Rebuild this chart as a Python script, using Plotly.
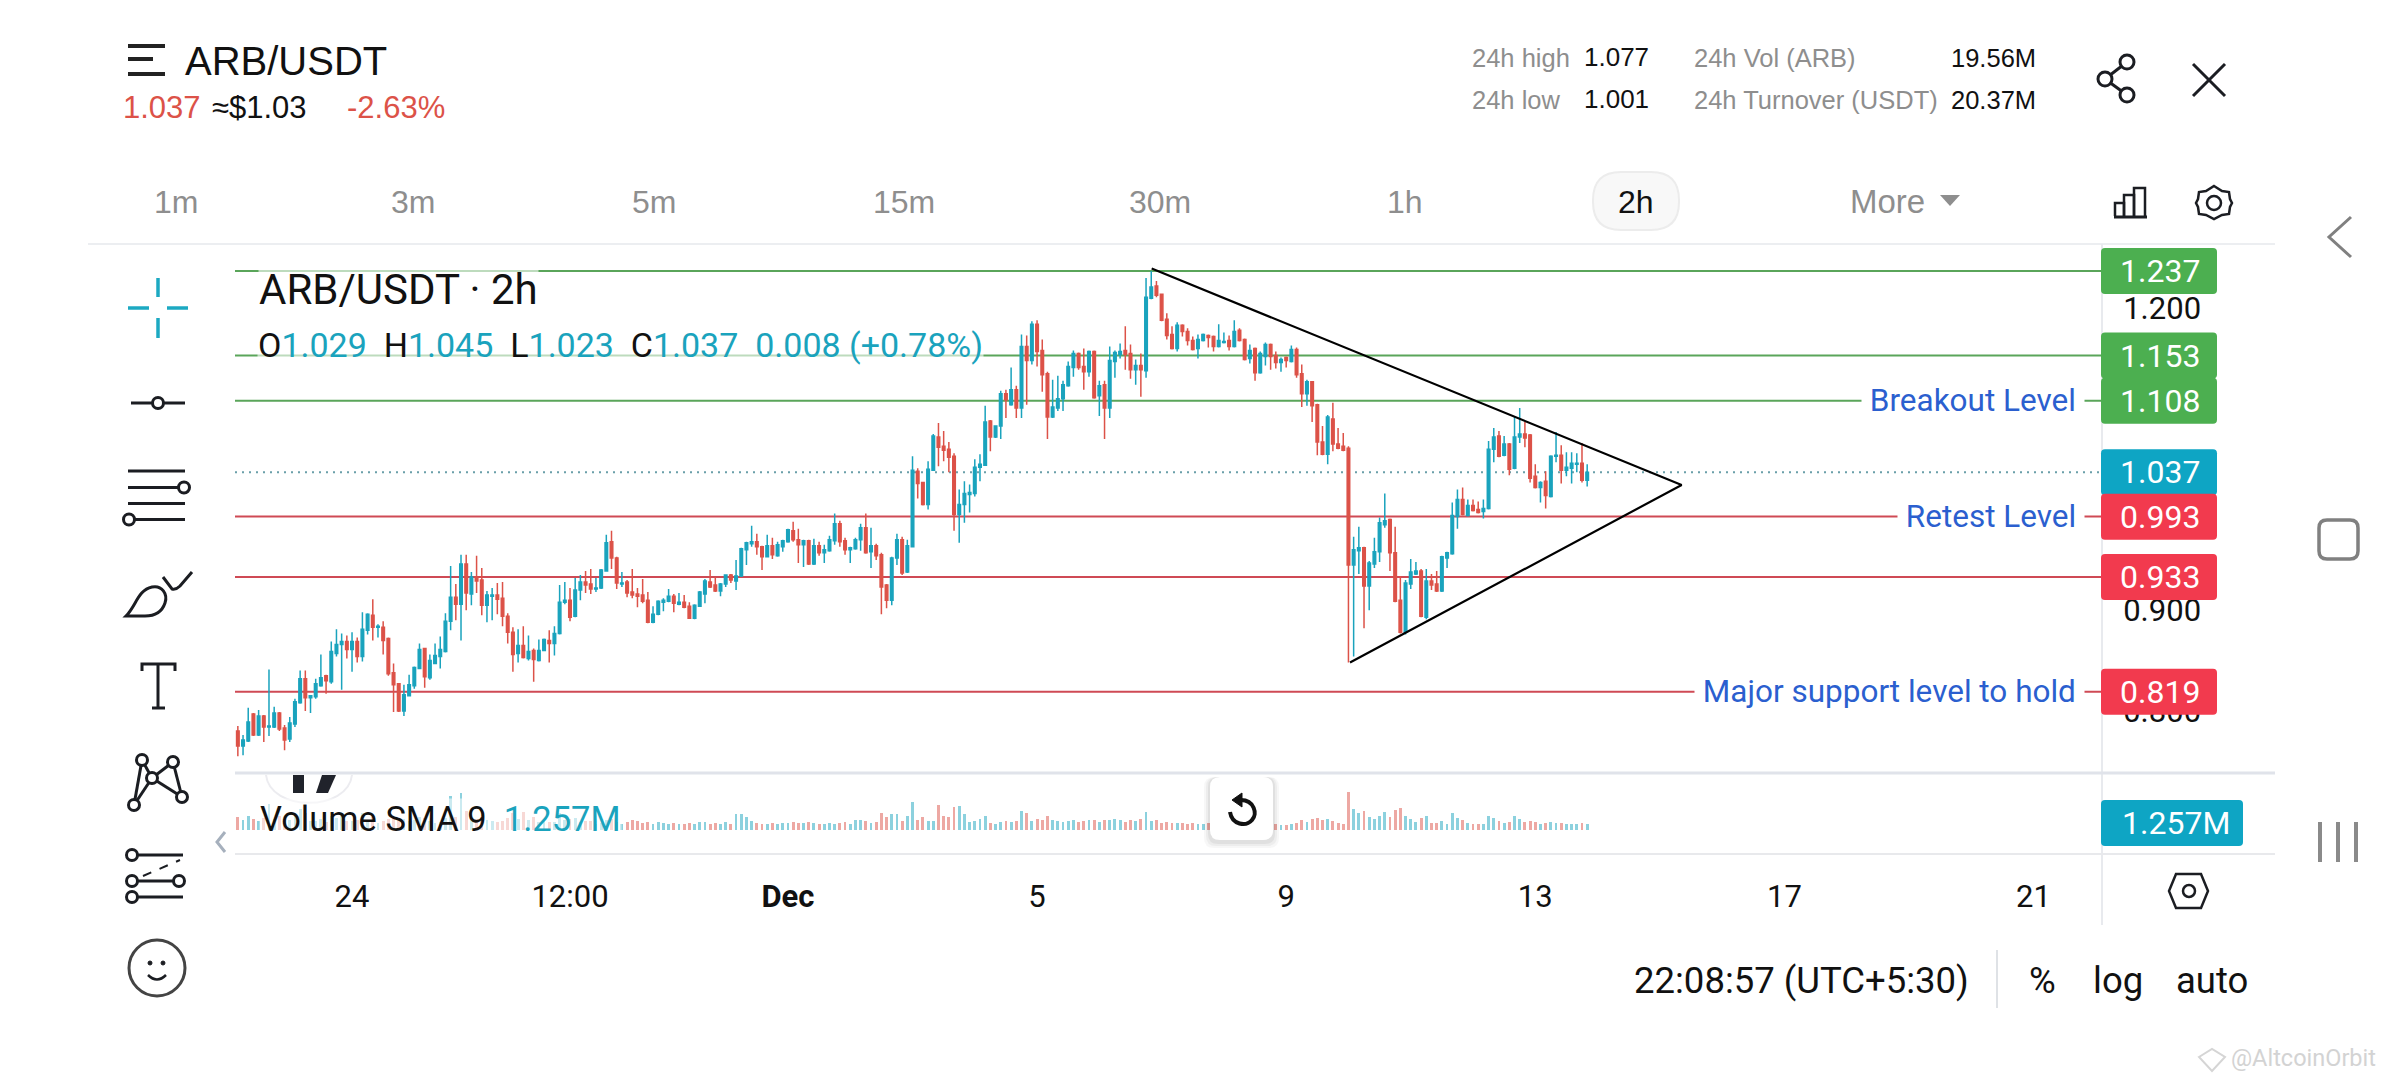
import pandas as pd
import plotly.graph_objects as go

# 2h candles, first bar Nov 22 04:00
times = pd.date_range("2023-11-22 04:00", periods=261, freq="2h")

opens = [
    .780, .765, .770, .797, .776, .795, .784, .784, .798, .783,
    .772, .787, .808, .832, .813, .814, .825, .835, .829, .857,
    .866, .869, .861, .869, .854, .880, .895, .883, .883, .872,
    .838, .827, .800, .815, .825, .842, .862, .833, .847, .854,
    .859, .889, .913, .906, .946, .916, .933, .930, .905, .914,
    .915, .912, .894, .878, .857, .865, .852, .860, .850, .860,
    .870, .867, .877, .908, .910, .894, .920, .928, .926, .921,
    .922, .939, .968, .952, .926, .928, .918, .916, .915, .910,
    .888, .896, .908, .909, .914, .906, .908, .904, .892, .904,
    .916, .928, .925, .919, .926, .935, .929, .934, .960, .966,
    .968, .963, .953, .964, .954, .963, .968, .979, .970, .965,
    .969, .946, .964, .957, .959, .969, .986, .969, .960, .961,
    .970, .982, .958, .964, .955, .925, .910, .952, .970, .938,
    .963, 1.038, 1.027, 1.005, 1.039, 1.072, 1.063, 1.060, 1.053, .995,
    1.005, 1.015, 1.016, 1.042, 1.044, 1.088, 1.072, 1.083, 1.115, 1.104,
    1.119, 1.101, 1.162, 1.148, 1.184, 1.158, 1.135, 1.092, 1.101, 1.110,
    1.123, 1.141, 1.155, 1.142, 1.137, 1.157, 1.113, 1.124, 1.101, 1.147,
    1.154, 1.158, 1.155, 1.139, 1.143, 1.138, 1.210, 1.222, 1.214, 1.189,
    1.174, 1.160, 1.183, 1.177, 1.168, 1.160, 1.168, 1.173, 1.172, 1.162,
    1.166, 1.168, 1.162, 1.178, 1.169, 1.150, 1.160, 1.136, 1.152, 1.164,
    1.153, 1.146, 1.151, 1.147, 1.159, 1.135, 1.115, 1.127, 1.104, 1.067,
    1.055, 1.090, 1.065, 1.063, 1.061, .945, .959, .962, .924, .946,
    .958, .985, .990, .957, .910, .878, .926, .936, .939, .893,
    .929, .926, .919, .952, .956, .993, 1.010, .994, 1.004, 1.000,
    .998, 1.001, 1.060, 1.073, 1.054, 1.065, 1.041, 1.072, 1.075, 1.074,
    1.033, 1.022, 1.028, 1.013, 1.053, 1.054, 1.039, 1.041, 1.045, 1.046, 1.029,
]
highs = [
    .785, .776, .803, .798, .801, .796, .841, .804, .799, .786,
    .794, .812, .840, .840, .815, .832, .856, .836, .869, .881,
    .877, .875, .878, .873, .898, .897, .911, .886, .889, .873,
    .847, .827, .826, .836, .844, .867, .862, .856, .867, .874,
    .897, .944, .926, .955, .955, .938, .954, .942, .919, .922,
    .927, .928, .897, .883, .881, .884, .875, .862, .871, .872,
    .880, .884, .925, .928, .922, .932, .935, .939, .941, .932,
    .941, .975, .979, .953, .938, .930, .941, .922, .931, .918,
    .904, .910, .912, .921, .916, .917, .915, .908, .906, .919,
    .931, .940, .933, .927, .935, .936, .950, .962, .968, .984,
    .976, .964, .975, .972, .968, .970, .981, .988, .981, .970,
    .970, .971, .968, .965, .974, .996, .989, .972, .963, .972,
    .986, .996, .982, .966, .957, .926, .953, .976, .973, .970,
    1.053, 1.041, 1.027, 1.048, 1.075, 1.086, 1.078, 1.067, 1.056, 1.020,
    1.028, 1.025, 1.050, 1.055, 1.103, 1.089, 1.083, 1.118, 1.119, 1.141,
    1.123, 1.174, 1.173, 1.187, 1.188, 1.169, 1.137, 1.129, 1.133, 1.128,
    1.147, 1.158, 1.156, 1.160, 1.158, 1.158, 1.128, 1.128, 1.162, 1.158,
    1.165, 1.182, 1.164, 1.149, 1.155, 1.230, 1.237, 1.227, 1.214, 1.195,
    1.182, 1.186, 1.184, 1.180, 1.172, 1.174, 1.175, 1.174, 1.173, 1.184,
    1.176, 1.173, 1.188, 1.180, 1.170, 1.164, 1.161, 1.157, 1.166, 1.165,
    1.157, 1.151, 1.152, 1.163, 1.161, 1.144, 1.129, 1.127, 1.105, 1.083,
    1.094, 1.106, 1.081, 1.076, 1.063, .973, .983, .963, .949, .972,
    .992, 1.016, .991, .983, .934, .930, .951, .948, .941, .941,
    .936, .939, .954, .958, 1.007, 1.020, 1.022, 1.010, 1.010, 1.008,
    1.010, 1.068, 1.081, 1.078, 1.073, 1.066, 1.092, 1.101, 1.087, 1.075,
    1.045, 1.028, 1.038, 1.054, 1.077, 1.064, 1.057, 1.057, 1.056, 1.066, 1.045,
]
lows = [
    .755, .756, .769, .775, .775, .769, .775, .783, .780, .761,
    .769, .784, .807, .800, .798, .812, .824, .817, .827, .854,
    .821, .852, .839, .848, .849, .876, .870, .873, .856, .835,
    .799, .799, .795, .815, .822, .842, .823, .831, .847, .842,
    .858, .880, .890, .870, .900, .905, .917, .895, .888, .890,
    .896, .884, .867, .839, .848, .852, .850, .829, .849, .860,
    .848, .855, .876, .906, .889, .893, .910, .917, .916, .918,
    .921, .939, .941, .921, .923, .913, .912, .903, .907, .887,
    .887, .895, .899, .908, .898, .905, .902, .892, .891, .904,
    .907, .922, .918, .914, .923, .927, .920, .933, .945, .963,
    .955, .940, .953, .951, .953, .958, .967, .968, .947, .943,
    .945, .945, .954, .947, .958, .965, .963, .955, .947, .960,
    .959, .956, .942, .950, .896, .902, .905, .945, .935, .937,
    .963, 1.011, 1.004, 1.000, 1.039, 1.043, 1.048, 1.037, .979, .967,
    .987, .997, 1.013, 1.028, 1.044, 1.058, 1.071, 1.070, 1.091, 1.103,
    1.091, 1.091, 1.104, 1.144, 1.142, 1.117, 1.070, 1.091, 1.098, 1.098,
    1.122, 1.132, 1.139, 1.119, 1.132, 1.110, 1.093, 1.070, 1.091, 1.131,
    1.150, 1.139, 1.130, 1.124, 1.112, 1.131, 1.209, 1.211, 1.187, 1.169,
    1.159, 1.157, 1.172, 1.163, 1.158, 1.150, 1.167, 1.161, 1.157, 1.161,
    1.165, 1.158, 1.161, 1.167, 1.148, 1.145, 1.128, 1.135, 1.143, 1.139,
    1.140, 1.137, 1.141, 1.146, 1.131, 1.102, 1.103, 1.087, 1.054, 1.054,
    1.045, 1.058, 1.060, 1.058, .848, .854, .936, .882, .900, .942,
    .948, .982, .939, .908, .877, .876, .921, .935, .893, .891,
    .920, .918, .918, .942, .955, .981, .994, .993, .998, .996,
    .991, 1.000, 1.047, 1.052, 1.053, 1.034, 1.040, 1.066, 1.062, 1.027,
    1.021, 1.007, 1.001, 1.012, 1.047, 1.026, 1.033, 1.026, 1.037, 1.027, 1.023,
]
closes = [
    .765, .771, .789, .776, .795, .784, .785, .798, .782, .771,
    .788, .809, .832, .813, .815, .827, .833, .830, .859, .866,
    .869, .861, .869, .854, .881, .896, .883, .884, .870, .837,
    .826, .800, .816, .826, .843, .861, .834, .850, .855, .861,
    .889, .913, .906, .946, .917, .933, .929, .905, .915, .915,
    .911, .894, .878, .856, .865, .853, .859, .851, .860, .871,
    .867, .877, .908, .910, .893, .920, .928, .925, .921, .922,
    .940, .967, .952, .927, .927, .917, .915, .914, .909, .888,
    .896, .909, .910, .914, .907, .908, .903, .892, .905, .918,
    .929, .923, .919, .926, .935, .930, .934, .961, .967, .968,
    .963, .953, .964, .955, .965, .969, .980, .970, .965, .969,
    .946, .964, .957, .960, .970, .986, .968, .960, .962, .970,
    .982, .957, .964, .954, .923, .910, .952, .970, .937, .964,
    1.039, 1.026, 1.005, 1.040, 1.073, 1.062, 1.059, 1.052, .995, 1.005,
    1.016, 1.017, 1.042, 1.045, 1.087, 1.072, 1.083, 1.115, 1.109, 1.119,
    1.101, 1.162, 1.148, 1.184, 1.157, 1.134, 1.092, 1.102, 1.110, 1.124,
    1.142, 1.155, 1.141, 1.137, 1.157, 1.111, 1.123, 1.101, 1.148, 1.156,
    1.157, 1.154, 1.139, 1.143, 1.139, 1.211, 1.221, 1.213, 1.188, 1.173,
    1.160, 1.183, 1.177, 1.168, 1.159, 1.169, 1.174, 1.171, 1.162, 1.168,
    1.167, 1.162, 1.177, 1.168, 1.149, 1.158, 1.136, 1.155, 1.164, 1.152,
    1.146, 1.149, 1.148, 1.159, 1.134, 1.115, 1.127, 1.103, 1.067, 1.055,
    1.092, 1.065, 1.061, 1.059, .945, .960, .962, .924, .947, .958,
    .987, .989, .957, .909, .878, .927, .938, .939, .894, .929,
    .925, .919, .953, .957, .994, 1.010, .995, 1.004, .999, .997,
    1.001, 1.060, 1.072, 1.053, 1.065, 1.040, 1.072, 1.075, 1.071, 1.031,
    1.022, 1.027, 1.014, 1.053, 1.054, 1.039, 1.042, 1.046, 1.046, 1.029, 1.037,
]
# volume in millions
volumes = [
    2.4, 1.8, 2.6, 2.0, 1.6, 2.2, 4.6, 2.0, 2.6, 1.8,
    1.8, 2.8, 3.8, 3.0, 1.6, 1.6, 2.0, 1.4, 2.6, 2.2,
    2.8, 1.6, 1.6, 1.8, 3.0, 1.8, 2.4, 1.2, 1.6, 2.0,
    2.4, 2.2, 2.0, 1.6, 1.8, 2.4, 2.2, 1.6, 1.2, 1.4,
    2.2, 6.2, 2.4, 6.7, 3.4, 2.2, 2.0, 2.4, 1.8, 1.6,
    1.4, 1.6, 2.2, 3.0, 2.0, 3.2, 1.8, 2.4, 1.4, 1.6,
    1.4, 1.4, 3.0, 1.8, 2.0, 2.2, 1.4, 1.6, 1.6, 1.0,
    1.2, 1.8, 2.0, 1.4, 1.0, 1.4, 1.8, 1.6, 1.2, 1.4,
    1.0, 1.4, 1.2, 1.0, 1.2, 1.0, 1.0, 1.2, 1.0, 1.4,
    1.4, 1.0, 1.2, 1.0, 1.4, 1.0, 2.9, 2.9, 2.3, 1.6,
    1.2, 1.0, 1.0, 1.2, 1.0, 1.2, 1.2, 1.4, 1.2, 1.2,
    1.4, 1.2, 1.0, 1.0, 1.2, 1.0, 1.2, 1.4, 1.0, 1.8,
    1.8, 1.6, 1.2, 1.4, 3.1, 2.3, 2.8, 2.8, 1.6, 2.6,
    5.0, 1.8, 2.3, 1.6, 1.6, 4.5, 2.6, 2.3, 4.2, 4.3,
    2.8, 1.4, 1.6, 2.0, 2.6, 1.2, 1.0, 1.4, 1.6, 1.4,
    1.6, 3.4, 3.0, 1.6, 2.0, 1.8, 2.6, 1.8, 1.6, 1.4,
    1.6, 1.8, 1.4, 1.6, 1.8, 1.8, 1.4, 1.8, 1.8, 2.0,
    1.8, 1.4, 1.8, 1.6, 2.0, 3.3, 1.6, 1.8, 1.2, 1.4,
    1.2, 1.2, 1.2, 1.0, 1.2, 1.0, 1.0, 1.2, 1.0, 1.0,
    1.0, 1.2, 1.4, 1.0, 1.2, 1.0, 1.2, 1.0, 1.0, 1.0,
    1.0, 0.9, 0.9, 1.0, 1.2, 1.8, 1.4, 2.0, 2.2, 1.8,
    2.0, 1.6, 1.2, 1.0, 6.8, 3.8, 3.0, 3.4, 2.4, 2.0,
    2.6, 3.2, 2.4, 3.6, 4.0, 2.6, 2.0, 1.4, 2.2, 2.6,
    1.2, 1.2, 1.6, 1.0, 3.0, 2.2, 1.8, 1.2, 1.0, 1.0,
    1.0, 2.6, 2.2, 1.6, 1.2, 1.4, 2.6, 2.0, 1.4, 1.6,
    1.4, 1.0, 1.2, 1.4, 1.2, 1.2, 1.0, 1.0, 1.0, 1.2, 1.0,
]

green_levels = [1.237, 1.153, 1.108]
red_levels = [0.993, 0.933, 0.819]
last_price = 1.037
level_notes = {1.108: "Breakout Level", 0.993: "Retest Level", 0.819: "Major support level to hold"}

triangle_x = ["2023-12-06 20:10", "2023-12-15 08:24", "2023-12-10 00:36"]
triangle_y = [1.2394, 1.0244, 0.848]

x_tick_vals = ["2023-11-24", "2023-11-27 12:00", "2023-12-01", "2023-12-05",
               "2023-12-09", "2023-12-13", "2023-12-17", "2023-12-21"]
x_tick_text = ["24", "12:00", "<b>Dec</b>", "5", "9", "13", "17", "21"]
y_tick_vals = [0.8, 0.9, 1.2]
y_tick_text = ["0.800", "0.900", "1.200"]

TEAL = "#1aa3bd"
RED = "#dc5248"
TAG_TEAL = "#0ea5c4"
TAG_RED = "#f23a4e"
TAG_GREEN = "#4caf50"
LINE_GREEN = "#5aa55a"
LINE_RED = "#cf4a55"
DARK = "#1b1d22"
GRAY = "#8e8e8e"
BLUE = "#2b5fcf"
FONT = "Roboto"
SANS = "Liberation Sans"

W, H = 2400, 1080


def fx(x):
    return x / W


def fy(y):
    return 1 - y / H


shapes = []
notes = []


def text(x, y, s, size, color=DARK, anchor="left", family=FONT, bg=None):
    notes.append(dict(xref="paper", yref="paper", x=fx(x), y=fy(y), text=s, showarrow=False,
                      xanchor=anchor, yanchor="middle", font=dict(size=size, color=color, family=family),
                      bgcolor=bg, borderpad=0))


def line(x0, y0, x1, y1, color=DARK, width=3, dash=None):
    shapes.append(dict(type="line", xref="paper", yref="paper", x0=fx(x0), y0=fy(y0), x1=fx(x1), y1=fy(y1),
                       line=dict(color=color, width=width, dash=dash), layer="above"))


def circle(cx, cy, r, color=DARK, width=3, fill="white"):
    shapes.append(dict(type="circle", xref="paper", yref="paper", x0=fx(cx - r), y0=fy(cy - r),
                       x1=fx(cx + r), y1=fy(cy + r), line=dict(color=color, width=width),
                       fillcolor=fill, layer="above"))


def path(cmds, color=DARK, width=3, fill=None):
    # cmds: list of (letter, x, y, ...) in pixels
    out = []
    for c in cmds:
        if c[0] == "Z":
            out.append("Z")
            continue
        vals = c[1:]
        pairs = [f"{fx(vals[i])},{fy(vals[i + 1])}" for i in range(0, len(vals), 2)]
        out.append(c[0] + " " + " ".join(pairs))
    shapes.append(dict(type="path", xref="paper", yref="paper", path=" ".join(out),
                       line=dict(color=color, width=width), fillcolor=fill, layer="above"))


def round_box(x0, y0, x1, y1, r, fill, edge=None, width=0):
    path([("M", x0 + r, y0), ("L", x1 - r, y0), ("Q", x1, y0, x1, y0 + r), ("L", x1, y1 - r),
          ("Q", x1, y1, x1 - r, y1), ("L", x0 + r, y1), ("Q", x0, y1, x0, y1 - r), ("L", x0, y0 + r),
          ("Q", x0, y0, x0 + r, y0), ("Z",)], color=edge or fill, width=width, fill=fill)


bar_colors = ["rgba(26,163,189,0.5)" if c >= o else "rgba(220,82,72,0.5)" for o, c in zip(opens, closes)]

fig = go.Figure()
fig.add_trace(go.Bar(x=times, y=volumes, yaxis="y2", marker=dict(color=bar_colors, line=dict(width=0)),
                     width=0.55 * 7200000, showlegend=False))
fig.add_trace(go.Candlestick(x=times, open=opens, high=highs, low=lows, close=closes, showlegend=False,
                             increasing=dict(line=dict(color=TEAL, width=1.5), fillcolor=TEAL),
                             decreasing=dict(line=dict(color=RED, width=1.5), fillcolor=RED),
                             whiskerwidth=0))
fig.add_trace(go.Scatter(x=triangle_x, y=triangle_y, mode="lines", line=dict(color="black", width=2.2),
                         showlegend=False, cliponaxis=False))

# horizontal levels sit behind the candles
for lv in green_levels + red_levels:
    shapes.append(dict(type="line", xref="paper", yref="y", x0=fx(235), x1=fx(2101), y0=lv, y1=lv,
                       line=dict(color=LINE_GREEN if lv in green_levels else LINE_RED, width=2), layer="below"))
shapes.append(dict(type="line", xref="paper", yref="y", x0=fx(235), x1=fx(2101), y0=last_price, y1=last_price,
                   line=dict(color="#6a9fa9", width=2, dash="2px,5px"), layer="below"))

# frame lines
line(88, 244, 2275, 244, "#eceef1", 2)
line(2102, 244, 2102, 925, "#e8eaee", 2)
line(235, 773, 2275, 773, "#e0e3ea", 3)
line(235, 854, 2275, 854, "#e8e9ec", 2)

# level tags
for lv in green_levels + [last_price] + red_levels:
    if lv in green_levels:
        col = TAG_GREEN
    elif lv in red_levels:
        col = TAG_RED
    else:
        col = TAG_TEAL
    yc = 271 + (1.237 - lv) * 1006.7
    round_box(2101, yc - 23, 2217, yc + 23, 4, col)
    text(2160, yc, f"{lv:.3f}", 32, "white", "center")
round_box(2101, 800, 2243, 846, 4, TAG_TEAL)
text(2176, 823, "1.257M", 32, "white", "center")

# notes over the level lines
for lv, s in level_notes.items():
    text(2085, 271 + (1.237 - lv) * 1006.7, "&nbsp;" + s + "&nbsp;", 31.5, BLUE, "right", bg="white")

# chart legend
text(258, 289, "ARB/USDT · 2h", 42, "#111111", bg="rgba(255,255,255,0.6)")
ohlc = ("O<span style='color:{t}'>1.029</span>  H<span style='color:{t}'>1.045</span>  "
        "L<span style='color:{t}'>1.023</span>  C<span style='color:{t}'>1.037</span>  "
        "<span style='color:{t}'>0.008 (+0.78%)</span>").format(t=TEAL)
text(257, 345, ohlc, 34, "#111111", bg="rgba(255,255,255,0.6)")

# faint logo behind the volume pane, cut by the pane line
path([("M", 266, 775), ("C", 270, 812, 348, 812, 352, 775)], "#ececf0", 2)
path([("M", 293, 775), ("L", 304, 775), ("L", 304, 793), ("L", 293, 793), ("Z",)], "#20232b", 0, "#20232b")
path([("M", 322, 775), ("L", 336, 775), ("L", 328, 793), ("L", 316, 793), ("Z",)], "#20232b", 0, "#20232b")
vol_label = f"Volume SMA 9  <span style='color:{TEAL}'>1.257M</span>"
text(259, 819, vol_label, 34.5, "#111111", bg="rgba(255,255,255,0.55)")

# reload button
for pad, alpha in ((6, 0.03), (4, 0.04), (2, 0.05)):
    round_box(1210 - pad, 777, 1273 + pad, 840 + pad + 2, 10, f"rgba(0,0,0,{alpha})")
round_box(1210, 777, 1273, 840, 10, "white")
path([("M", 1241, 800), ("C", 1254, 800, 1258, 814, 1252, 820), ("C", 1246, 827, 1232, 825, 1230, 812)], "#111111", 4)
path([("M", 1242, 793), ("L", 1242, 807), ("L", 1232, 800), ("Z",)], "#111111", 1, "#111111")

# header
line(128, 46, 165, 46, "#222222", 4)
line(128, 59, 153, 59, "#222222", 4)
line(128, 74, 165, 74, "#222222", 4)
text(184, 61, "ARB/USDT", 40, "#111111", family=SANS)
text(122, 107, "1.037", 31, RED, family=SANS)
text(211, 107, "≈$1.03", 31, "#111111", family=SANS)
text(346, 107, "-2.63%", 31, RED, family=SANS)

stat_rows = [(58, "24h high", "1.077", "24h Vol (ARB)", "19.56M"), (100, "24h low", "1.001", "24h Turnover (USDT)", "20.37M")]
for yy, a, b, c, d in stat_rows:
    text(1471, yy, a, 25.5, GRAY, family=SANS)
    text(1583, yy - 1, b, 26, "#111111", family=SANS)
    text(1693, yy, c, 25.5, GRAY, family=SANS)
    text(2037, yy, d, 25.5, "#111111", "right", SANS)

# share + close icons
line(2105, 79, 2127, 62, DARK, 3)
line(2105, 79, 2127, 95, DARK, 3)
circle(2105, 79, 7)
circle(2127, 62, 7)
circle(2127, 95, 7)
line(2193, 64, 2225, 96, DARK, 3)
line(2225, 64, 2193, 96, DARK, 3)

# timeframe row
round_box(1593, 172, 1679, 230, 28, "#f8f8f8", "#ececec", 2)
for xx, s in ((176, "1m"), (413, "3m"), (654, "5m"), (904, "15m"), (1160, "30m"), (1405, "1h")):
    text(xx, 202, s, 32, GRAY, "center", SANS)
text(1636, 202, "2h", 32, "#111111", "center", SANS)
text(1887, 202, "More", 33, GRAY, "center", SANS)
path([("M", 1940, 195), ("L", 1960, 195), ("L", 1950, 206), ("Z",)], GRAY, 0, GRAY)
# bars icon
path([("M", 2115, 216), ("L", 2115, 203), ("L", 2124, 203), ("L", 2124, 216)], DARK, 2.5)
path([("M", 2124, 216), ("L", 2124, 195), ("L", 2134, 195), ("L", 2134, 216)], DARK, 2.5)
path([("M", 2134, 216), ("L", 2134, 188), ("L", 2145, 188), ("L", 2145, 216)], DARK, 2.5)
line(2114, 217, 2147, 217, DARK, 3)
# gear icon
path([("M", 2214, 186), ("L", 2222, 191), ("L", 2229, 192), ("L", 2230, 199), ("L", 2232, 203), ("L", 2230, 207),
      ("L", 2229, 214), ("L", 2222, 215), ("L", 2214, 219), ("L", 2206, 215), ("L", 2199, 214), ("L", 2198, 207),
      ("L", 2196, 203), ("L", 2198, 199), ("L", 2199, 192), ("L", 2206, 191), ("Z",)], DARK, 2.5)
circle(2214, 203, 7, DARK, 2.5)

# android nav
path([("M", 2351, 217), ("L", 2329, 237), ("L", 2351, 257)], "#808080", 3)
round_box(2319, 520, 2358, 559, 8, "white", "#808080", 3.5)
line(2320, 822, 2320, 862, "#8a8a8a", 4)
line(2338, 822, 2338, 862, "#8a8a8a", 4)
line(2356, 822, 2356, 862, "#8a8a8a", 4)

# sidebar tools
for a, b, c, d in ((128, 308, 149, 308), (167, 308, 188, 308), (158, 278, 158, 297), (158, 318, 158, 338)):
    line(a, b, c, d, "#1ca9c2", 3.5)
line(131, 403, 185, 403)
circle(158, 403, 5.5)
for yy in (471, 487.5, 503.5, 519.5):
    line(128, yy, 185, yy)
circle(184, 487.5, 5.5)
circle(129, 519.5, 5.5)
# brush
path([("M", 126, 616), ("C", 136, 606, 138, 590, 152, 587), ("C", 162, 585, 168, 594, 165, 603),
      ("C", 162, 612, 155, 616, 145, 616), ("Z",)])
path([("M", 163, 577), ("L", 172, 589), ("Q", 176, 590, 180, 586), ("L", 192, 572)])
# text tool
path([("M", 142, 671), ("L", 142, 664), ("L", 175, 664), ("L", 175, 671)])
line(158, 664, 158, 708)
line(152, 708, 165, 708)
# pattern tool
for a, b, c, d in ((142, 760, 152, 778), (142, 760, 134, 805), (134, 805, 152, 778), (152, 778, 173, 762),
                   (152, 778, 182, 797), (173, 762, 182, 797)):
    line(a, b, c, d)
for a, b in ((142, 760), (173, 762), (152, 778), (182, 797), (134, 805)):
    circle(a, b, 5.5)
# fib tool
line(132, 855, 183, 855)
line(132, 881, 179, 881)
line(132, 897, 183, 897)
line(143, 876, 180, 860, DARK, 2, "dash")
for a, b in ((132, 855), (132, 881), (179, 881), (132, 897)):
    circle(a, b, 5.5)
# smiley
circle(157, 968, 28, "#444444", 3)
circle(150, 963, 2, DARK, 1, DARK)
circle(163, 963, 2, DARK, 1, DARK)
path([("M", 148, 975), ("Q", 157, 984, 166, 975)], DARK, 2.5)
path([("M", 225, 832), ("L", 217, 842), ("L", 225, 852)], "#a6b0bd", 3)

# hex settings icon
path([("M", 2176, 874), ("L", 2201, 874), ("L", 2208, 891), ("L", 2201, 908), ("L", 2176, 908), ("L", 2169, 891), ("Z",)],
     DARK, 2.5)
circle(2189, 891, 6, DARK, 2.5)

# status row
text(1633, 980, "22:08:57 (UTC+5:30)", 36.5, "#111111")
line(1997, 950, 1997, 1008, "#dfe2e6", 2)
text(2043, 980, "%", 36.5, "#111111", "center")
text(2118, 980, "log", 36.5, "#111111", "center")
text(2212, 980, "auto", 36.5, "#111111", "center")

# watermark
path([("M", 2199, 1057), ("L", 2212, 1049), ("L", 2225, 1057), ("L", 2212, 1071), ("Z",)], "#d5d5d5", 2)
text(2230, 1058, "@AltcoinOrbit", 23.5, "#d3d3d3")

fig.update_layout(
    width=W, height=H, margin=dict(l=0, r=0, t=0, b=0), paper_bgcolor="white", plot_bgcolor="white",
    showlegend=False, bargap=0,
    xaxis=dict(domain=[fx(235), fx(2102)], anchor="y2", type="date",
               range=["2023-11-22 02:54", "2023-12-22 02:24"], rangeslider=dict(visible=False),
               tickmode="array", tickvals=x_tick_vals, ticktext=x_tick_text, showgrid=False, zeroline=False,
               showline=False, ticks="outside", ticklen=15, tickcolor="rgba(0,0,0,0)",
               tickfont=dict(size=31, color="#111111", family=FONT)),
    yaxis=dict(domain=[fy(773), fy(244)], range=[0.7383, 1.2638], anchor="x", side="right",
               tickmode="array", tickvals=y_tick_vals, ticktext=y_tick_text, showgrid=False, zeroline=False,
               showline=False, ticks="outside", ticklen=14, tickcolor="rgba(0,0,0,0)",
               tickfont=dict(size=31, color="#111111", family=FONT)),
    yaxis2=dict(domain=[fy(854), fy(773)], range=[-4.32, 10.26], anchor="x", visible=False),
    shapes=shapes, annotations=notes,
)

fig.write_html("out.html", config={"displayModeBar": False},
               post_script="document.body.style.margin='0';document.body.style.overflow='hidden';")
